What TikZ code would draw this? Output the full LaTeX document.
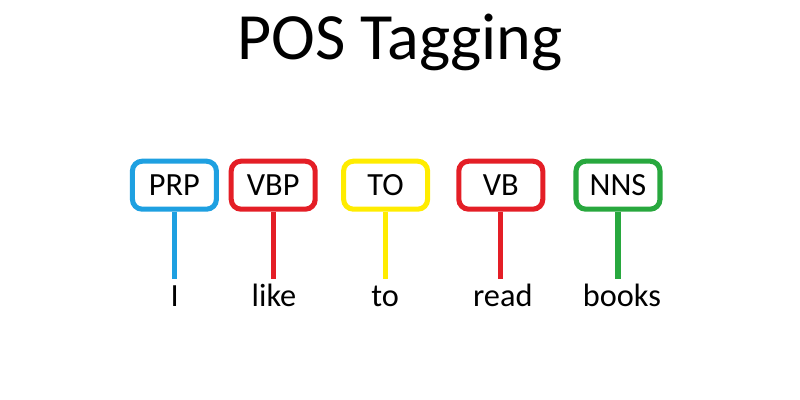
\documentclass[tikz,border=0pt]{standalone}
\usepackage{fontspec}
\setmainfont{Carlito}
\definecolor{tagblue}{RGB}{30,160,225}
\definecolor{tagred}{RGB}{228,30,38}
\definecolor{tagyellow}{RGB}{255,236,0}
\definecolor{taggreen}{RGB}{40,168,62}
\tikzset{
  tag/.style={draw, line width=3.6pt, rounded corners=7pt, minimum width=2.1cm,
    minimum height=1.2cm, font=\fontsize{23}{26}\selectfont},
  word/.style={font=\fontsize{23}{26}\selectfont, text height=0.5cm, text depth=0.12cm,
    inner sep=0pt},
  stick/.style={line width=3.6pt, shorten >=0.2cm}
}
\begin{document}
\begin{tikzpicture}
                \useasboundingbox (0,0) rectangle (20,10);
                % Title
                \node (title) at (10,8.95) {\fontsize{47}{52}\selectfont POS Tagging};

                % Tags
                \node[tag, draw=tagblue] (prp) at (4.36,5.37) {PRP};
                \node[tag, draw=tagred] (vbp) at (6.83,5.37) {VBP};
                \node[tag, draw=tagyellow] (to) at (9.64,5.37) {TO};
                \node[tag, draw=tagred] (vb) at (12.52,5.37) {VB};
                \node[tag, draw=taggreen] (nns) at (15.45,5.37) {NNS};

                % Words
                \node[word] (wi) at (4.37,2.52) {I};
                \node[word] (wlike) at (6.85,2.52) {like};
                \node[word] (wto) at (9.63,2.52) {to};
                \node[word] (wread) at (12.57,2.52) {read};
                \node[word] (wbooks) at (15.55,2.52) {books};

                % Sticks
                \draw[stick, tagblue] (prp.south) -- (prp.south |- wi.north);
                \draw[stick, tagred] (vbp.south) -- (vbp.south |- wlike.north);
                \draw[stick, tagyellow] (to.south) -- (to.south |- wto.north);
                \draw[stick, tagred] (vb.south) -- (vb.south |- wread.north);
                \draw[stick, taggreen] (nns.south) -- (nns.south |- wbooks.north);
\end{tikzpicture}
\end{document}
